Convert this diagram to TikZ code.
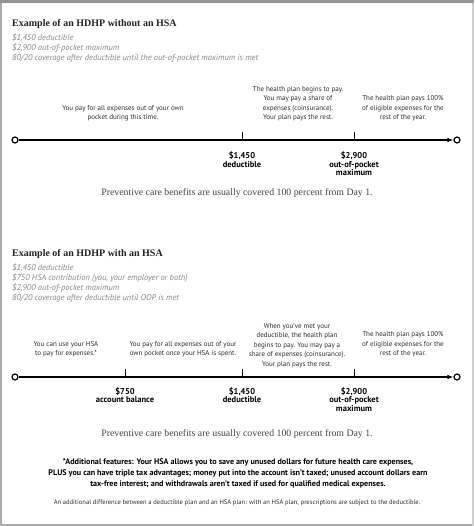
\documentclass[tikz,border=0pt]{standalone}
\usepackage{fontspec}
\setmainfont{Liberation Serif}
\setsansfont{PT Sans}
\usetikzlibrary{arrows.meta}
\definecolor{frametop}{HTML}{959595}
\definecolor{frameside}{HTML}{ABABAB}
\definecolor{frameright}{HTML}{CFCFCF}
\definecolor{titlec}{HTML}{222222}
\definecolor{infoc}{HTML}{888888}
\definecolor{descc}{HTML}{2E2E2E}
\definecolor{prevc}{HTML}{444444}
\begin{document}
\begin{tikzpicture}[x=1pt,y=-1pt,
  titletext/.style={anchor=base west, inner sep=0, text=titlec, font=\fontsize{10}{12}\selectfont\bfseries},
  info/.style={anchor=base west, inner sep=0, text=infoc, font=\sffamily\itshape\fontsize{8.4}{10}\selectfont},
  desc/.style={anchor=south, inner sep=0, align=center, text depth=0pt, text=descc, font=\sffamily\fontsize{7}{9.5}\selectfont},
  val/.style={anchor=south, inner sep=0, align=center, text depth=0pt, text=black, font=\sffamily\bfseries\fontsize{8.5}{8.5}\selectfont},
  prev/.style={anchor=base, inner sep=0, text=prevc, font=\fontsize{9.8}{11}\selectfont},
  endpt/.style={circle, draw=black, line width=1.2pt, fill=white, inner sep=0, minimum size=6pt},
  axis/.style={line width=1.2pt, -{Latex[length=6pt,width=4.5pt]}},
  tick/.style={line width=0.9pt}
]
\useasboundingbox (0,0) rectangle (474,526);
% frame
\fill[frameside] (0,0) rectangle (474,526);
\fill[frametop] (0,0) rectangle (474,3);
\fill[frameright] (472,3) rectangle (474,526);
\fill[white] (2,3) rectangle (472,523.5);

% ---------- section 1 ----------
\node[titletext] (t1) at (12,27) {Example of an HDHP without an HSA};
\node[info] (a1) at (12,40.5) {\$1,450 deductible};
\node[info] (a2) at (12,50.5) {\$2,900 out-of-pocket maximum};
\node[info] (a3) at (12,60.5) {80/20 coverage after deductible until the out-of-pocket maximum is met};

\node[desc] (d11) at (123,120) {You pay for all expenses out of your own\\pocket during this time.};
\node[desc] (d12) at (298,120) {The health plan begins to pay.\\You may pay a share of\\expenses (coinsurance).\\Your plan pays the rest.};
\node[desc] (d13) at (403,120) {The health plan pays 100\%\\of eligible expenses for the\\rest of the year.};

\node[endpt] (s1) at (15,140) {};
\node[endpt] (e1) at (457,140) {};
\draw[axis] (s1) -- (e1);
\coordinate (k12) at (242,140);
\coordinate (k13) at (354,140);
\draw[tick] (k12) -- ++(0,-7.5);
\draw[tick] (k13) -- ++(0,-7.5);

\node[val] (v12) at (242,167.5) {\$1,450\\deductible};
\node[val] (v13) at (354,176) {\$2,900\\out-of-pocket\\maximum};

\node[prev] (p1) at (237,196) {Preventive care benefits are usually covered 100 percent from Day 1.};

% ---------- section 2 ----------
\node[titletext] (t2) at (12,256) {Example of an HDHP with an HSA};
\node[info] (b1) at (12,270) {\$1,450 deductible};
\node[info] (b2) at (12,280) {\$750 HSA contribution (you, your employer or both)};
\node[info] (b3) at (12,290) {\$2,900 out-of-pocket maximum};
\node[info] (b4) at (12,300) {80/20 coverage after deductible until OOP is met};

\node[desc] (d21) at (66,356) {You can use your HSA\\to pay for expenses.*};
\node[desc] (d22) at (183,356) {You pay for all expenses out of your\\own pocket once your HSA is spent.};
\node[desc] (d23) at (297,366.5) {When you’ve met your\\deductible, the health plan\\begins to pay. You may pay a\\share of expenses (coinsurance).\\Your plan pays the rest.};
\node[desc] (d24) at (403,356) {The health plan pays 100\%\\of eligible expenses for the\\rest of the year.};

\node[endpt] (s2) at (15,377) {};
\node[endpt] (e2) at (457,377) {};
\draw[axis] (s2) -- (e2);
\coordinate (k21) at (125,377);
\coordinate (k22) at (242,377);
\coordinate (k23) at (354,377);
\draw[tick] (k21) -- ++(0,-8);
\draw[tick] (k22) -- ++(0,-8);
\draw[tick] (k23) -- ++(0,-8);

\node[val] (v21) at (125,403) {\$750\\account balance};
\node[val] (v22) at (242,403) {\$1,450\\deductible};
\node[val] (v23) at (354,411.5) {\$2,900\\out-of-pocket\\maximum};

\node[prev] (p2) at (237,436) {Preventive care benefits are usually covered 100 percent from Day 1.};

\node[anchor=south, inner sep=0, align=center, text depth=0pt, text=black, font=\sffamily\bfseries\fontsize{8.1}{11}\selectfont] (fn) at (238,487)
 {*Additional features: Your HSA allows you to save any unused dollars for future health care expenses,\\PLUS you can have triple tax advantages; money put into the account isn’t taxed; unused account dollars earn\\tax-free interest; and withdrawals aren’t taxed if used for qualified medical expenses.};
\node[anchor=base, inner sep=0, text=descc, font=\sffamily\fontsize{6.55}{8}\selectfont] (note) at (237,504)
 {An additional difference between a deductible plan and an HSA plan: with an HSA plan, prescriptions are subject to the deductible.};
\end{tikzpicture}
\end{document}
